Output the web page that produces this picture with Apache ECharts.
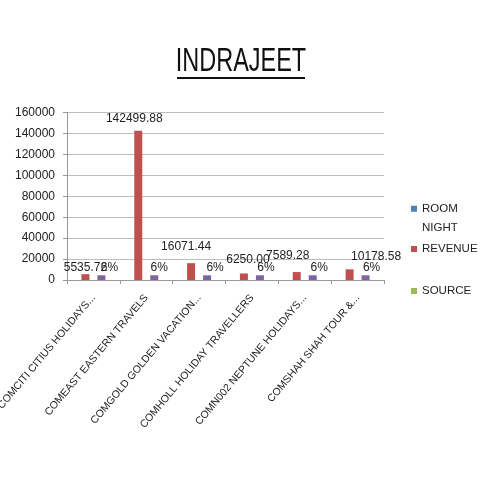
<!DOCTYPE html>
<html>
<head>
<meta charset="utf-8">
<script src="https://cdn.jsdelivr.net/npm/echarts@6/dist/echarts.min.js"></script>
<style>html,body{margin:0;padding:0;background:#fff}#c{width:480px;height:480px}</style>
</head>
<body>
<div id="c"></div>
<script>
// ---- data ----
const titleText = 'INDRAJEET';
const categories = [
  'COMCITI CITIUS HOLIDAYS...',
  'COMEAST EASTERN TRAVELS',
  'COMGOLD GOLDEN VACATION...',
  'COMHOLL HOLIDAY TRAVELLERS',
  'COMN002 NEPTUNE HOLIDAYS...',
  'COMSHAH SHAH TOUR &...'
];
const roomNight = [0, 0, 0, 0, 0, 0];
const revenue = [5535.72, 142499.88, 16071.44, 6250.00, 7589.28, 10178.58];
const source = [0, 0, 0, 0, 0, 0];
const share = [4500, 4500, 4500, 4500, 4500, 4500];
const shareLabels = ['6%', '6%', '6%', '6%', '6%', '6%'];
const extra = [0, 0, 0, 0, 0, 0];
const yTicks = [0, 20000, 40000, 60000, 80000, 100000, 120000, 140000, 160000];

// ---- styling (label nudges, not data) ----
const revenueLabelNudge = [[0, 4], [-4, -1], [-5, -5], [4, -3], [-9, -5], [26.5, -1.5]];
const shareLabelNudge = [[8, 3.7], [5, 3.7], [8, 3.7], [6, 3.7], [6.5, 3.7], [6, 3.7]];

const FONT = "'Liberation Sans', Arial, sans-serif";
const chart = echarts.init(document.getElementById('c'), null, {renderer: 'canvas'});

const barBase = {type: 'bar', barWidth: 8, barGap: '0%'};
const legendText = {fontFamily: FONT, fontSize: 11.5, color: '#222'};
const legendBase = {orient: 'vertical', left: 411, padding: 0, itemWidth: 6, itemHeight: 6, icon: 'rect'};

chart.setOption({
  animation: false,
  backgroundColor: '#fff',
  graphic: [
    {type: 'text', x: 241, y: 61.5, scaleX: 0.69,
     style: {text: titleText, font: "34px 'Liberation Sans', sans-serif", fill: '#111', align: 'center', verticalAlign: 'middle'}},
    {type: 'line', shape: {x1: 177, y1: 78, x2: 305, y2: 78}, style: {stroke: '#111', lineWidth: 2}}
  ],
  legend: [
    Object.assign({}, legendBase, {data: ['ROOM NIGHT'], top: 179.5,
     formatter: () => '\u00a0\nROOM\nNIGHT', textStyle: Object.assign({lineHeight: 19.5}, legendText)}),
    Object.assign({}, legendBase, {data: ['REVENUE'], top: 241,
     textStyle: Object.assign({lineHeight: 16}, legendText)}),
    Object.assign({}, legendBase, {data: ['SOURCE'], top: 283,
     textStyle: Object.assign({lineHeight: 16}, legendText)})
  ],
  grid: {left: 67, right: 96, top: 112.5, bottom: 200, containLabel: false, outerBoundsMode: 'none'},
  xAxis: {
    type: 'category', data: categories,
    axisLine: {lineStyle: {color: '#999'}},
    axisTick: {show: true, length: 4, lineStyle: {color: '#999'}},
    axisLabel: {interval: 0, rotate: 50, margin: 16, fontFamily: FONT, fontSize: 10.5, color: '#222'}
  },
  yAxis: {
    type: 'value', min: yTicks[0], max: yTicks[yTicks.length - 1], interval: yTicks[1] - yTicks[0],
    axisLine: {show: true, lineStyle: {color: '#999'}},
    axisTick: {show: true, length: 4, lineStyle: {color: '#999'}},
    splitLine: {lineStyle: {color: '#bdbdbd', width: 1}},
    axisLabel: {margin: 12, fontFamily: FONT, fontSize: 12, color: '#222', formatter: v => String(v)}
  },
  series: [
    Object.assign({}, barBase, {name: 'ROOM NIGHT', data: roomNight, itemStyle: {color: '#4f81bd'}}),
    Object.assign({}, barBase, {name: 'REVENUE', itemStyle: {color: '#c0504d'},
      data: revenue.map((v, i) => ({value: v, label: {offset: revenueLabelNudge[i]}})),
      label: {show: true, position: 'top', distance: 5, fontFamily: FONT, fontSize: 12, color: '#222',
              formatter: p => p.value.toFixed(2)}}),
    Object.assign({}, barBase, {name: 'SOURCE', data: source, itemStyle: {color: '#9bbb59'}}),
    Object.assign({}, barBase, {name: 'SHARE', itemStyle: {color: '#8064a2'},
      data: share.map((v, i) => ({value: v, label: {offset: shareLabelNudge[i]}})),
      label: {show: true, position: 'top', distance: 5, fontFamily: FONT, fontSize: 12, color: '#222',
              formatter: p => shareLabels[p.dataIndex]}}),
    Object.assign({}, barBase, {name: 'EXTRA', data: extra, itemStyle: {color: '#4bacc6'}})
  ]
});
</script>
</body>
</html>
